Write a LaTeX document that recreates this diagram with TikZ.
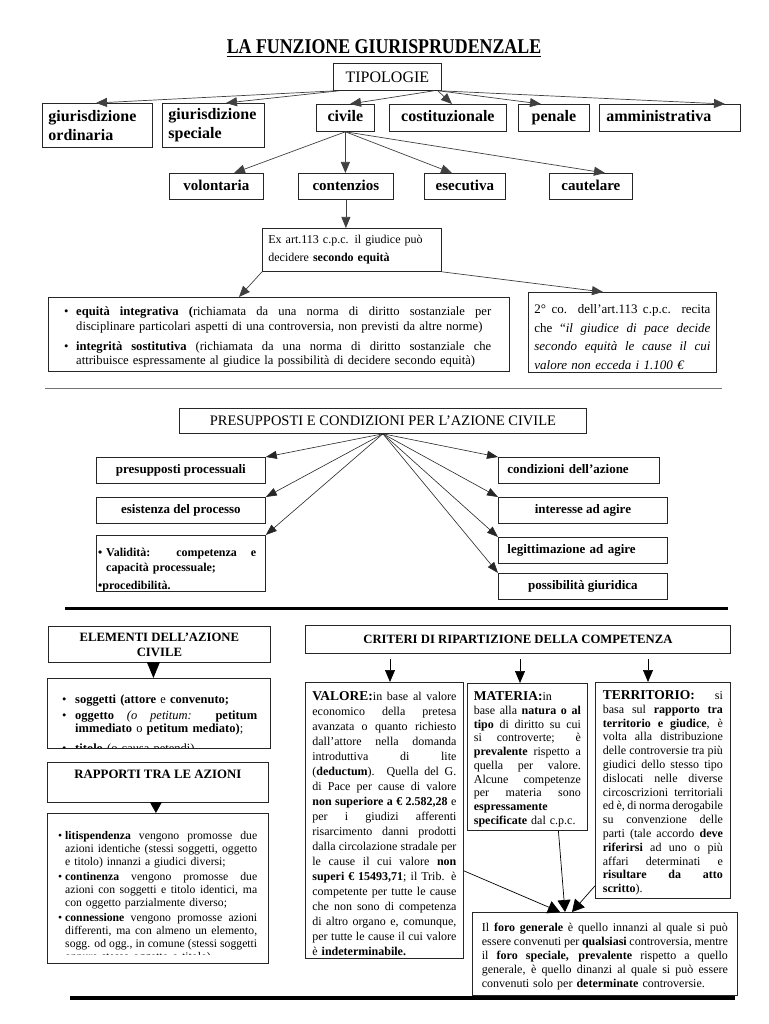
\documentclass[tikz,border=0pt]{standalone}
\usepackage{fontspec}
\setmainfont{Liberation Serif}
\newfontfamily\narrowfont[FakeStretch=0.85]{Liberation Serif}
\usetikzlibrary{arrows.meta}

\newcommand\fsz[2]{\fontsize{#1}{#2}\selectfont}
\newlength\bind
\newcommand\spread[2]{\makebox[#1][s]{\spaceskip=0pt\xspaceskip=0pt\relax#2}}
\newcommand\jline[1]{\par\noindent\spread{\hsize}{#1}}
\newcommand\nline[1]{\par\noindent#1}
\newcommand\bline[1]{\par\noindent\makebox[\bind][l]{\textbullet}\spread{\dimexpr\hsize-\bind\relax}{#1}}
\newcommand\bnat[1]{\par\noindent\makebox[\bind][l]{\textbullet}#1}
\newcommand\contj[1]{\par\noindent\hspace*{\bind}\spread{\dimexpr\hsize-\bind\relax}{#1}}
\newcommand\contn[1]{\par\noindent\hspace*{\bind}#1}
\newcommand\itemgap[1]{\par\vspace{#1}}

\begin{document}
\begin{tikzpicture}[x=1pt, y=-1pt]
    \tikzset{
      BoxStyle/.style = {draw=black!85, line width=0.8pt, inner sep=0pt, anchor=north west},
      RowStyle/.style = {BoxStyle, font=\bfseries\fsz{16}{19}},
      OneRow/.style = {RowStyle, minimum height=27, text height=11pt, text depth=3.5pt},
      SubStyle/.style = {BoxStyle, font=\bfseries\fsz{15}{17}, minimum height=26, text height=10.5pt, text depth=3pt},
      PresStyle/.style = {BoxStyle, font=\bfseries\fsz{13}{15}, minimum height=26, text height=9pt, text depth=3pt},
      HeadStyle/.style = {BoxStyle, font=\bfseries\fsz{12.7}{15}, align=center},
      TextStyle/.style = {inner sep=0pt, anchor=north west},
      TopArrow/.style = {draw=black!75, line width=0.7pt, -{Triangle[length=11pt,width=9pt]}},
      PresArrow/.style = {draw=black!85, line width=0.6pt, -{Triangle[length=11pt,width=8pt]}},
      CritArrow/.style = {draw=black, line width=0.7pt, -{Triangle[length=12pt,width=10pt]}},
      ForoArrow/.style = {draw=black, line width=0.7pt, -{Triangle[length=12pt,width=13pt]}}
    }
    \useasboundingbox (0,0) rectangle (768,1024);

    \node[font=\narrowfont\bfseries\fsz{21}{24}, inner sep=0pt] (titolo) at (384,47) {LA FUNZIONE GIURISPRUDENZALE};
    \draw[line width=1pt] ([yshift=-2]titolo.south west) -- ([yshift=-2]titolo.south east);

    \node[BoxStyle, minimum width=108, minimum height=27, font=\fsz{16}{18}] (tipologie) at (333,63) {TIPOLOGIE};

    \node[RowStyle, minimum width=110, minimum height=44, text width=98, inner xsep=6pt, align=left] (ordinaria) at (42,103) {giurisdizione\\ordinaria};
    \node[RowStyle, minimum width=102, minimum height=44, text width=90, inner xsep=6pt, align=left] (speciale) at (162,103) {giurisdizione\\speciale};
    \node[OneRow, minimum width=58] (civile) at (316,104) {civile};
    \node[OneRow, minimum width=117] (costituzionale) at (389,104) {costituzionale};
    \node[OneRow, minimum width=71] (penale) at (518,104) {penale};
    \node[OneRow, minimum width=141, text width=127, inner xsep=7pt, align=left] (amministrativa) at (599,104) {amministrativa};

    \draw[TopArrow] ([xshift=3]tipologie.south west) -- ([xshift=54]ordinaria.north west);
    \draw[TopArrow] ([xshift=6]tipologie.south west) -- ([xshift=64]speciale.north west);
    \draw[TopArrow] ([xshift=-8]tipologie.south east) -- ([xshift=34]civile.north west);
    \draw[TopArrow] ([xshift=-4]tipologie.south east) -- ([xshift=63]costituzionale.north west);
    \draw[TopArrow] ([xshift=-3]tipologie.south east) -- ([xshift=23]penale.north west);
    \draw[TopArrow] ([xshift=-2]tipologie.south east) -- ([xshift=126]amministrativa.north west);

    \node[SubStyle, minimum width=94] (volontaria) at (169,173) {volontaria};
    \node[SubStyle, minimum width=95] (contenzios) at (298,173) {contenzios};
    \node[SubStyle, minimum width=81] (esecutiva) at (424,173) {esecutiva};
    \node[SubStyle, minimum width=83] (cautelare) at (549,173) {cautelare};

    \draw[TopArrow] (civile.south) -- ([xshift=65]volontaria.north west);
    \draw[TopArrow] (civile.south) -- (civile.south |- contenzios.north);
    \draw[TopArrow] (civile.south) -- ([xshift=28]esecutiva.north west);
    \draw[TopArrow] (civile.south) -- ([xshift=56]cautelare.north west);

    \node[BoxStyle, minimum width=179, minimum height=43, text width=167, inner xsep=6pt, align=left, font=\fsz{12}{18}] (exart) at (262,228) {Ex art.113 c.p.c. il giudice può\\decidere \textbf{secondo equità}};
    \draw[TopArrow] (contenzios.south) -- (contenzios.south |- exart.north);

    \node[BoxStyle, minimum width=461, minimum height=74] (equita) at (48,297) {};
    \begin{scope}
    \clip (equita.north west) rectangle (equita.south east);
    \node[TextStyle, text width=427, font=\fsz{12.6}{14.5}] (equitatxt) at ([xshift=16,yshift=-4]equita.north west) {\setlength\bind{12pt}%
      \bline{\textbf{equità integrativa (}richiamata da una norma di diritto sostanziale per}
      \contn{disciplinare particolari aspetti di una controversia, non previsti da altre norme)}\itemgap{5.5pt}
      \bline{\textbf{integrità sostitutiva} (richiamata da una norma di diritto sostanziale che}
      \contn{attribuisce espressamente al giudice la possibilità di decidere secondo equità)}};
    \end{scope}

    \node[BoxStyle, minimum width=188, minimum height=80, text width=176, inner xsep=6pt, font=\fsz{13}{18.5}] (codue) at (528,292) {%
      \jline{2° co. dell’art.113 c.p.c. recita}
      \jline{che “\textit{il giudice di pace decide}}
      \jline{\textit{secondo equità le cause il cui}}
      \nline{\textit{valore non ecceda i 1.100 €}}};

    \draw[TopArrow] (exart.south west) -- ([xshift=191]equita.north west);
    \draw[TopArrow] (exart.south east) -- ([xshift=75]codue.north west);

    \draw[black!55, line width=0.8pt] (45,388) -- (722,388);

    \node[BoxStyle, minimum width=407, minimum height=25, font=\fsz{14.5}{16}] (prestitolo) at (179,408) {PRESUPPOSTI E CONDIZIONI PER L’AZIONE CIVILE};

    \node[PresStyle, minimum width=169] (presproc) at (96,457) {presupposti processuali};
    \node[PresStyle, minimum width=169] (esistenza) at (96,497) {esistenza del processo};
    \node[BoxStyle, minimum width=169, minimum height=56] (validita) at (96,535) {};
    \begin{scope}
    \clip (validita.north west) rectangle ([yshift=1.5]validita.south east);
    \node[TextStyle, text width=158, font=\bfseries\fsz{12}{15}] (validitatxt) at ([xshift=2,yshift=-6]validita.north west) {\setlength\bind{8pt}%
      \bline{Validità: competenza e}
      \contn{capacità processuale;}\itemgap{3pt}
      \nline{\textbullet procedibilità.}};
    \end{scope}

    \node[PresStyle, minimum width=161, text width=143, inner xsep=9pt, align=left] (condizioni) at (498,457) {condizioni dell’azione};
    \node[PresStyle, minimum width=169] (interesse) at (498,497) {interesse ad agire};
    \node[PresStyle, minimum width=169, text width=151, inner xsep=9pt, align=left] (legittimazione) at (498,537) {legittimazione ad agire};
    \node[PresStyle, minimum width=169] (possibilita) at (498,573) {possibilità giuridica};

    \draw[PresArrow] (prestitolo.south) -- (presproc.north east);
    \draw[PresArrow] (prestitolo.south) -- (esistenza.north east);
    \draw[PresArrow] (prestitolo.south) -- (validita.north east);
    \draw[PresArrow] (prestitolo.south) -- (condizioni.north west);
    \draw[PresArrow] (prestitolo.south) -- (interesse.north west);
    \draw[PresArrow] (prestitolo.south) -- (legittimazione.north west);
    \draw[PresArrow] (prestitolo.south) -- (possibilita.north west);

    \draw[line width=3pt] (65,608) -- (728,608);

    \node[HeadStyle, minimum width=222, minimum height=36] (elementi) at (48,626) {ELEMENTI DELL’AZIONE\\CIVILE};
    \node[BoxStyle, minimum width=223, minimum height=70] (elemcont) at (47,678) {};
    \draw[line width=0.7pt, -{Triangle[length=16pt,width=13pt]}] ([xshift=-6]elementi.south) -- ([xshift=-6]elementi.south |- elemcont.north);
    \begin{scope}
    \clip (elemcont.north west) rectangle ([yshift=1]elemcont.south east);
    \node[TextStyle, text width=195, font=\fsz{12.5}{12.5}] (elemtxt) at ([xshift=15,yshift=-13]elemcont.north west) {\setlength\bind{13pt}%
      \bnat{\textbf{soggetti (attore} e \textbf{convenuto;}}\itemgap{3.5pt}
      \bline{\textbf{oggetto} \textit{(o petitum:} \textbf{petitum}}
      \contn{\textbf{immediato} o \textbf{petitum mediato)};}\itemgap{8pt}
      \bnat{\textbf{titolo} (o causa petendi)}};
    \end{scope}

    \node[HeadStyle, minimum width=221, minimum height=40, text depth=16pt, font=\bfseries\fsz{12.8}{15}] (rapporti) at (47,762) {RAPPORTI TRA LE AZIONI};
    \node[BoxStyle, minimum width=221, minimum height=150] (rapcont) at (47,813) {};
    \draw[line width=0.7pt, -{Triangle[length=11pt,width=12pt]}] ([xshift=-2]rapporti.south) -- ([xshift=-2]rapporti.south |- rapcont.north);
    \begin{scope}
    \clip (rapcont.north west) rectangle ([yshift=9]rapcont.south east);
    \node[TextStyle, text width=199, font=\fsz{11.7}{13}] (raptxt) at ([xshift=11,yshift=-13]rapcont.north west) {\setlength\bind{7pt}%
      \bline{\textbf{litispendenza} vengono promosse due}
      \contj{azioni identiche (stessi soggetti, oggetto}
      \contn{e titolo) innanzi a giudici diversi;}\itemgap{2pt}
      \bline{\textbf{continenza} vengono promosse due}
      \contj{azioni con soggetti e titolo identici, ma}
      \contn{con oggetto parzialmente diverso;}\itemgap{2pt}
      \bline{\textbf{connessione} vengono promosse azioni}
      \contj{differenti, ma con almeno un elemento,}
      \contj{sogg. od ogg., in comune (stessi soggetti}
      \contn{oppure stesso oggetto o titolo)}};
    \end{scope}

    \node[HeadStyle, minimum width=425, minimum height=28] (criteri) at (305,625) {CRITERI DI RIPARTIZIONE DELLA COMPETENZA};

    \node[BoxStyle, minimum width=158, minimum height=276, text width=144, inner xsep=7pt, font=\fsz{12}{15}] (valore) at (305,682) {%
      \jline{{\bfseries\fsz{13.5}{15}VALORE:}in base al valore}
      \jline{economico della pretesa}
      \jline{avanzata o quanto richiesto}
      \jline{dall’attore nella domanda}
      \jline{introduttiva di lite}
      \jline{(\textbf{deductum}). Quella del G.}
      \jline{di Pace per cause di valore}
      \jline{\textbf{non superiore a € 2.582,28} e}
      \jline{per i giudizi afferenti}
      \jline{risarcimento danni prodotti}
      \jline{dalla circolazione stradale per}
      \jline{le cause il cui valore \textbf{non}}
      \jline{\textbf{superi € 15493,71}; il Trib. è}
      \jline{competente per tutte le cause}
      \jline{che non sono di competenza}
      \jline{di altro organo e, comunque,}
      \jline{per tutte le cause il cui valore}
      \nline{è \textbf{indeterminabile.}}};

    \node[BoxStyle, minimum width=120, minimum height=147, text width=107, inner xsep=6.5pt, font=\fsz{12}{13.7}] (materia) at (467,683) {%
      \nline{{\bfseries\fsz{13.5}{13.7}MATERIA:}in}
      \jline{base alla \textbf{natura o al}}
      \jline{\textbf{tipo} di diritto su cui}
      \jline{si controverte; è}
      \jline{\textbf{prevalente} rispetto a}
      \jline{quella per valore.}
      \jline{Alcune competenze}
      \jline{per materia sono}
      \nline{\textbf{espressamente}}
      \nline{\textbf{specificate} dal c.p.c.}};

    \node[BoxStyle, minimum width=135, minimum height=216, text width=120, inner xsep=7.5pt, font=\fsz{12}{13.8}] (territorio) at (595,682) {%
      \jline{{\bfseries\fsz{13.5}{13.8}TERRITORIO:} si}
      \jline{basa sul \textbf{rapporto tra}}
      \jline{\textbf{territorio e giudice}, è}
      \jline{volta alla distribuzione}
      \jline{delle controversie tra più}
      \jline{giudici dello stesso tipo}
      \jline{dislocati nelle diverse}
      \jline{circoscrizioni territoriali}
      \jline{ed è, di norma derogabile}
      \jline{su convenzione delle}
      \jline{parti (tale accordo \textbf{deve}}
      \jline{\textbf{riferirsi} ad uno o più}
      \jline{affari determinati e}
      \jline{\textbf{risultare da atto}}
      \nline{\textbf{scritto}).}};

    \draw[CritArrow] ([xshift=85,yshift=-5]criteri.south west) -- ([xshift=85]valore.north west);
    \draw[CritArrow] ([xshift=215,yshift=-5]criteri.south west) -- ([xshift=53]materia.north west);
    \draw[CritArrow] ([xshift=343,yshift=-5]criteri.south west) -- ([xshift=53]territorio.north west);

    \node[BoxStyle, minimum width=265, minimum height=83, text width=246, inner xsep=9.5pt, font=\fsz{12}{14}] (foro) at (472,912) {%
      \jline{Il \textbf{foro generale} è quello innanzi al quale si può}
      \jline{essere convenuti per \textbf{qualsiasi} controversia, mentre}
      \jline{il \textbf{foro speciale, prevalente} rispetto a quello}
      \jline{generale, è quello dinanzi al quale si può essere}
      \nline{convenuti solo per \textbf{determinate} controversie.}};

    \draw[ForoArrow] ([yshift=88]valore.south east) -- ([xshift=88]foro.north west);
    \draw[ForoArrow] ([xshift=31]materia.south) -- ([xshift=93]foro.north west);
    \draw[ForoArrow] ([yshift=13]territorio.south west) -- ([xshift=100]foro.north west);

    \draw[line width=3.5pt] (70,998) -- (735,998);
\end{tikzpicture}
\end{document}
